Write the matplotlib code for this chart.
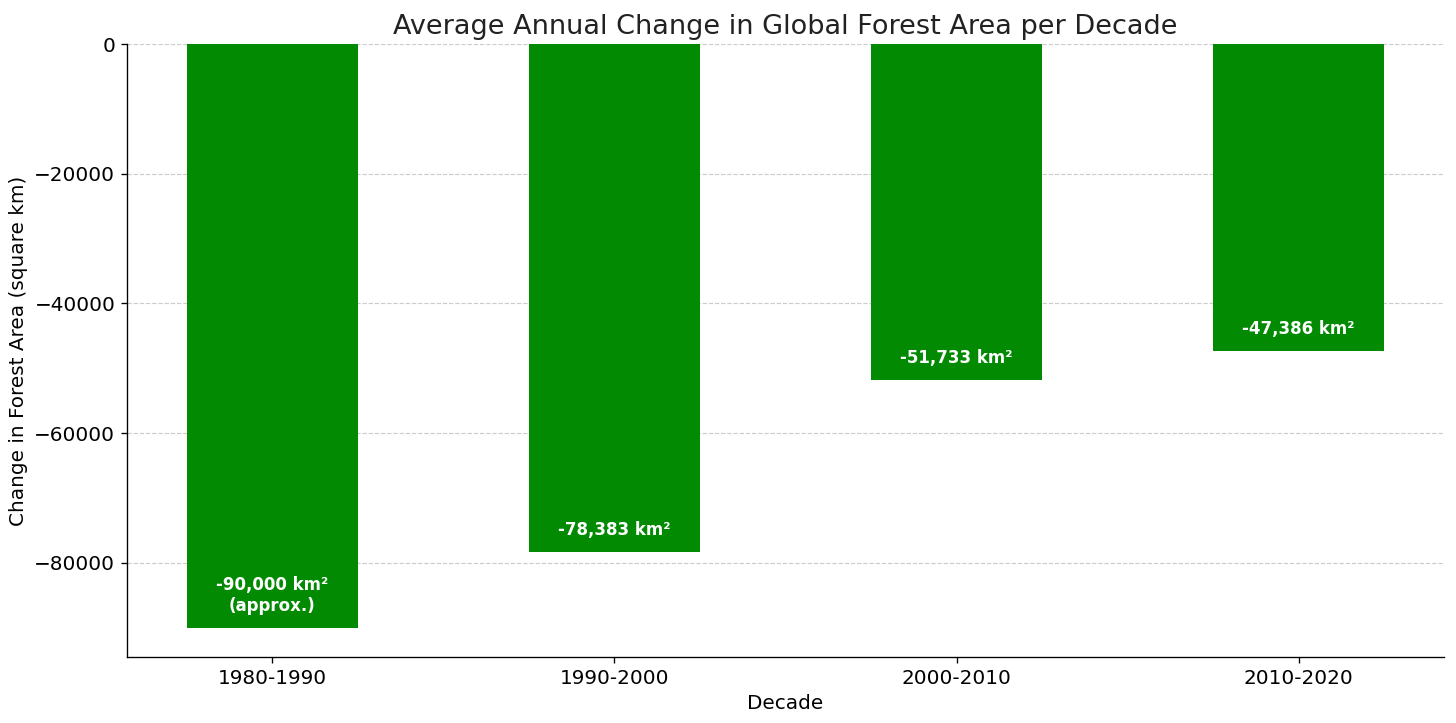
import matplotlib
matplotlib.use("Agg")
import matplotlib.pyplot as plt

# données par décennie
decades = ["1980-1990", "1990-2000", "2000-2010", "2010-2020"]
changes = [-90000, -78383, -51733, -47386]
bar_labels = ["-90,000 km²\n(approx.)", "-78,383 km²", "-51,733 km²", "-47,386 km²"]

fig, ax = plt.subplots(figsize=(1456 / 120, 723 / 120), dpi=120)

bars = ax.bar(decades, changes, color="#028a02", width=0.5)

# étiquettes dans les barres, près du bas
for bar, label in zip(bars, bar_labels):
    ax.text(bar.get_x() + bar.get_width() / 2, bar.get_height() + 2000, label,
            ha="center", va="bottom", color="white", fontsize=10, fontweight="bold")

ax.set_title("Average Annual Change in Global Forest Area per Decade", fontsize=16.3, color="#222222")
ax.set_xlabel("Decade", fontsize=12)
ax.set_ylabel("Change in Forest Area (square km)", fontsize=12)
ax.tick_params(labelsize=12)

ax.grid(axis="y", linestyle="--", color="#cccccc", linewidth=0.7)
ax.set_axisbelow(True)
ax.spines["top"].set_visible(False)
ax.spines["right"].set_visible(False)

# marges calées sur l'image de référence
plt.subplots_adjust(left=0.0872, right=0.9918, top=0.9391, bottom=0.0913)
plt.savefig("out.png", dpi=120)
